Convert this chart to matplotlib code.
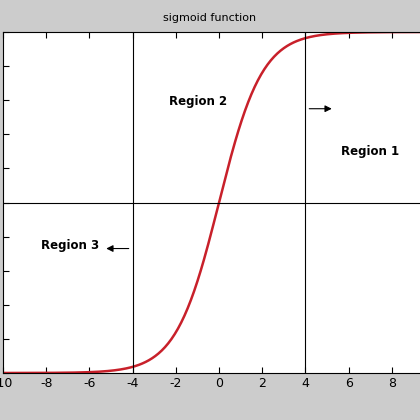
import numpy as np
import matplotlib
matplotlib.use("Agg")
import matplotlib.pyplot as plt

x_vals = np.linspace(-10, 10, 401)
y_vals = 1.0 / (1.0 + np.exp(-x_vals))
x_ticks = [-10, -8, -6, -4, -2, 0, 2, 4, 6, 8, 10]
y_ticks = [0, 0.1, 0.2, 0.3, 0.4, 0.5, 0.6, 0.7, 0.8, 0.9, 1.0]
region_labels = ["Region 1", "Region 2", "Region 3"]
region_pos = [(7.0, 0.65), (-0.95, 0.795), (-6.9, 0.375)]
bounds = [-4, 4]

fig = plt.figure(figsize=(4.2, 4.2), dpi=100, facecolor="#cccccc")
ax = fig.add_axes([3/420, 47/420, 432/420, 341/420])
ax.plot(x_vals, y_vals, color="#c8202a", lw=1.8)
for b in bounds:
    ax.axvline(b, color="black", lw=0.8)
ax.axhline(0.5, color="black", lw=0.8)
ax.set_xlim(-10, 10)
ax.set_ylim(0, 1)
ax.set_xticks(x_ticks)
ax.set_xticklabels([str(t) for t in x_ticks])
ax.set_yticks(y_ticks)
ax.set_yticklabels([])
ax.tick_params(direction="in", top=True, length=4, labelsize=9, pad=3)
for lab, (lx, ly) in zip(region_labels, region_pos):
    ax.text(lx, ly, lab, fontsize=8.5, fontweight="bold", ha="center", va="center")
ax.annotate("", xy=(5.35, 0.775), xytext=(4.05, 0.775),
            arrowprops=dict(arrowstyle="-|>", color="black", lw=0.8))
ax.annotate("", xy=(-5.35, 0.365), xytext=(-4.05, 0.365),
            arrowprops=dict(arrowstyle="-|>", color="black", lw=0.8))
fig.text(0.5, 0.957, "sigmoid function", ha="center", va="center", fontsize=8)
fig.savefig("out.png", dpi=100, facecolor=fig.get_facecolor())
